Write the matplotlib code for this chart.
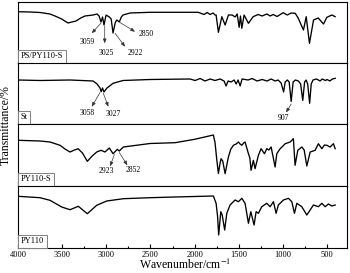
import matplotlib
matplotlib.use("Agg")
import matplotlib.pyplot as plt
from matplotlib.ticker import MultipleLocator

plt.rcParams['font.family'] = ['Liberation Serif', 'DejaVu Serif']
plt.rcParams['mathtext.fontset'] = 'stix'

# ---------------- data (wavenumber cm^-1, transmittance, arbitrary units) --------------
wn_ps = [4000, 3864, 3751, 3638, 3581, 3505, 3434, 3390, 3343, 3290, 3241, 3150, 3105, 3082,
         3060, 3043, 3026, 3003, 2966, 2945, 2924, 2900, 2882, 2866, 2853, 2830, 2811, 2731,
         2505, 2278, 1961, 1938, 1893, 1859, 1825, 1791, 1769, 1757, 1731, 1692, 1655, 1617,
         1575, 1541, 1518, 1496, 1481, 1466, 1440, 1391, 1338, 1281, 1236, 1182, 1145, 1111,
         1066, 998, 952, 907, 861, 828, 768, 737, 700, 654, 601, 541, 503, 446, 409]
t_ps = [51.3, 51, 50.5, 49, 47, 44, 40, 41, 42, 45, 47, 48, 49, 47,
        41, 46, 38, 48, 46, 44, 30, 40, 43, 42, 41, 46, 48, 50,
        50.7, 50.7, 50.7, 50, 48.5, 50.5, 48.5, 50, 48, 48, 30.7, 46.3, 38, 48,
        48, 46, 49, 35.7, 47, 34.7, 48, 39.7, 46.3, 48.5, 47, 49, 47, 48.5,
        46.5, 50.3, 48, 50, 49.7, 45, 33, 46.3, 19.7, 43, 45, 39, 45.7, 48, 46.3]

wn_st = [4000, 3751, 3411, 3150, 3105, 3071, 3058, 3043, 3027, 2992, 2924, 2811, 2505, 2052,
         1995, 1938, 1882, 1825, 1769, 1712, 1667, 1644, 1621, 1587, 1553, 1530, 1508, 1485,
         1463, 1395, 1349, 1293, 1236, 1180, 1134, 1088, 1055, 1021, 993, 975, 950, 930, 907,
         885, 860, 825, 800, 776, 755, 738, 720, 698, 680, 660, 620, 580, 555, 520, 500, 470,
         440, 409]
t_st = [44, 43.5, 44, 43, 40, 36, 32.3, 36, 32, 36, 40.7, 43.5, 44.5, 45,
        43.5, 45.5, 43, 45, 43.5, 45, 43, 38, 43, 42, 44, 40, 44, 38,
        45, 44, 45.5, 43, 44.5, 43, 45, 43, 44, 41, 32, 42, 44, 42, 22.5,
        42, 44, 43, 40, 23.5, 42, 44, 40, 20.7, 40, 44, 45, 43, 45, 43.5, 44.5, 43,
        45, 45.7]

wn_pys = [4000, 3751, 3638, 3524, 3468, 3411, 3360, 3320, 3270, 3215, 3160, 3109, 3060, 3015,
          2966, 2924, 2875, 2853, 2807, 2505, 2222, 2000, 1788, 1770, 1749, 1731, 1712, 1701,
          1682, 1655, 1618, 1590, 1561, 1530, 1504, 1485, 1466, 1445, 1429, 1391, 1375, 1361,
          1335, 1316, 1278, 1248, 1210, 1183, 1160, 1134, 1089, 1070, 1032, 1000, 975, 919,
          882, 863, 832, 787, 760, 730, 692, 636, 599, 560, 530, 503, 466, 429, 409]
t_pys = [45.7, 45, 44, 40.7, 37, 34, 36, 37.3, 33, 24.7, 30, 34, 35.7, 34,
         38, 32.3, 36.7, 35, 39, 42.5, 43.3, 46.7, 51, 44, 26, 12.5, 23, 27.3,
         25, 12.3, 29, 37, 40.7, 42, 44, 42, 40.7, 43, 44, 32.3, 28, 15.7,
         25.7, 17.3, 30.7, 37.3, 32.3, 37.3, 36, 39, 19, 32.3, 37.3, 40, 42.3, 44,
         47.3, 20.7, 35.7, 39, 36, 20, 34, 35.7, 42.3, 37.3, 41, 40.7, 39, 42.3, 37.3]

wn_py = [4000, 3751, 3638, 3505, 3411, 3317, 3215, 3109, 2995, 2807, 2505, 2222, 1788, 1757,
         1740, 1728, 1704, 1688, 1660, 1636, 1599, 1542, 1504, 1466, 1429, 1391, 1364, 1327,
         1304, 1278, 1240, 1183, 1146, 1108, 1078, 1052, 995, 938, 900, 870, 843, 787, 730,
         692, 655, 599, 560, 523, 485, 447, 409]
t_py = [51.7, 50.3, 47.7, 41, 38.3, 41.7, 34.3, 42.7, 47, 49.3, 50.3, 51, 52, 44.7,
        31.3, 13, 36.3, 33, 18, 34.7, 43, 48, 46.3, 49.7, 44.7, 24.7, 36.3, 23,
        36.3, 34.7, 41.3, 44.7, 41.3, 46.3, 34.7, 43, 48, 49.7, 46.3, 34.7, 44.7, 41.3, 33,
        38, 43, 41.3, 44.7, 41.3, 44, 42, 43]

labels = ['PS/PY110-S', 'St', 'PY110-S', 'PY110']
series = [(wn_ps, t_ps), (wn_st, t_st), (wn_pys, t_pys), (wn_py, t_py)]

# annotations: (text, tail(wn, T), head(wn, T), text pos (wn, T))
notes = [
    [('3059', (3060, 40), (3165, 29.7), (3215, 21.3)),
     ('3025', (3018, 37), (3018, 19.7), (3003, 10.3)),
     ('2922', (2901, 29.7), (2788, 16.3), (2675, 10.3)),
     ('2850', (2845, 40.5), (2675, 31.3), (2550, 28.7))],
    [('3058', (3071, 31.5), (3165, 17.3), (3215, 10.7)),
     ('3027', (3034, 30.7), (2977, 17.3), (2920, 10)),
     ('907', (907, 20), (965, 11.5), (995, 5.7))],
    [('2923', (2909, 31.5), (2958, 19.7), (3003, 14.7)),
     ('2852', (2853, 33.5), (2762, 20.7), (2694, 15.7))],
    [],
]

# ---------------- layout ----------------
W, H = 350, 273
fig = plt.figure(figsize=(W / 100, H / 100), dpi=100)
tops = [2, 63, 124, 186]
bots = [63, 124, 186, 248]
left, right = 18, 347

for i in range(4):
    ax = fig.add_axes([left / W, 1 - bots[i] / H, (right - left) / W, (bots[i] - tops[i]) / H])
    wn, t = series[i]
    ax.plot(wn, t, color='black', lw=0.95, solid_joinstyle='round')
    ax.set_xlim(4000, 275)
    ax.set_ylim(0, bots[i] - tops[i])
    ax.set_yticks([])
    for s in ax.spines.values():
        s.set_linewidth(0.8)
    if i < 3:
        ax.set_xticks([])
    else:
        ax.xaxis.set_major_locator(MultipleLocator(500))
        ax.xaxis.set_minor_locator(MultipleLocator(250))
        ax.tick_params(axis='x', which='major', direction='in', length=3, width=0.8,
                       labelsize=6, pad=2)
        ax.tick_params(axis='x', which='minor', direction='in', length=1.6, width=0.8)
    ax.text(0.009, 0.045, labels[i], transform=ax.transAxes, fontsize=6,
            ha='left', va='bottom',
            bbox=dict(boxstyle='square,pad=0.3', fc='white', ec='#808080', lw=0.7))
    for txt, tail, head, pos in notes[i]:
        ax.annotate('', xy=head, xytext=tail,
                    arrowprops=dict(arrowstyle='-|>,head_length=0.25,head_width=0.1',
                                    color='#333333', lw=0.5, shrinkA=0, shrinkB=0))
        ax.text(pos[0], pos[1], txt, fontsize=5.5, ha='center', va='center')

fig.text(6 / W, 1 - 125 / H, 'Transmittance/%', rotation=90, ha='center', va='center',
         fontsize=8.5)
fig.text(185 / W, 1 - 265 / H, r'Wavenumber/cm$^{-1}$', ha='center', va='center',
         fontsize=8.5)

fig.savefig('out.png', dpi=100)
